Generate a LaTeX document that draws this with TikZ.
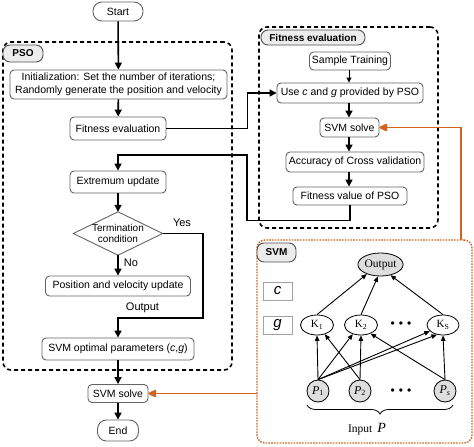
\documentclass[tikz,border=0pt]{standalone}
\usepackage{fontspec}
\setmainfont{Liberation Sans}
\newfontfamily\netfont{Liberation Serif}
\usetikzlibrary{arrows.meta,shapes.geometric,decorations.pathreplacing,calc}
\definecolor{orng}{RGB}{210,100,25}
\definecolor{bgray}{RGB}{100,100,100}
\definecolor{labfill}{RGB}{236,236,236}
\definecolor{nodefill}{RGB}{222,222,222}
\newcommand\flowfont{\fontsize{10.5}{12.7}\selectfont}
\begin{document}
\begin{tikzpicture}[x=1pt,y=-1pt,
  fbox/.style={draw=bgray, line width=0.9pt, fill=white, rounded corners=4pt, inner sep=1pt, align=center, font=\flowfont},
  pill/.style={fbox, rounded corners=9pt},
  lab/.style={draw=bgray!80!black, fill=labfill, rounded corners=7pt, line width=0.9pt, inner sep=1pt, font=\bfseries\fontsize{10}{12}\selectfont},
  region/.style={draw=black, line width=1.6pt, dash pattern=on 4pt off 3pt, rounded corners=8pt, inner sep=0pt},
  oregion/.style={draw=orng, line width=1.4pt, dash pattern=on 1.6pt off 1.2pt, rounded corners=8pt, inner sep=0pt},
  arr/.style={-{Triangle[length=7pt,width=7pt]}, line width=1.6pt},
  arrt/.style={-{Triangle[length=5pt,width=5pt]}, line width=0.9pt},
  oarr/.style={draw=orng, line width=1.8pt, -{Triangle[length=9pt,width=8pt,round]}},
  narr/.style={-{Triangle[length=5.5pt,width=4.5pt]}, line width=0.9pt},
  knode/.style={draw=black, line width=0.8pt, ellipse, inner sep=0pt, minimum width=33pt, minimum height=20pt, font=\netfont\fontsize{11}{12}\selectfont},
  pnode/.style={draw=black, line width=0.8pt, circle, fill=nodefill, inner sep=0pt, minimum size=22pt, font=\netfont\fontsize{12}{13}\selectfont},
  varbox/.style={draw=bgray!60, line width=0.9pt, fill=white, inner sep=0pt, minimum width=29pt, minimum height=18pt, font=\itshape\fontsize{15}{16}\selectfont},
  tlabel/.style={font=\fontsize{11}{12}\selectfont, inner sep=0pt}
]
\useasboundingbox (0,0) rectangle (474,447);
\fill[white] (0,0) rectangle (474,447);

% regions
\node[region, minimum width=229pt, minimum height=328pt] (psobox) at (117.5,206) {};
\node[region, minimum width=179pt, minimum height=201pt] (fitbox) at (348.5,127.5) {};
\node[oregion, minimum width=215pt, minimum height=203pt] (svmbox) at (364.5,341.5) {};

% region labels
\node[lab, minimum width=40pt, minimum height=17pt] (psolab) at (23,53.5) {PSO};
\node[lab, minimum width=104pt, minimum height=15pt] (fitlab) at (313,37.5) {Fitness evaluation};
\node[lab, minimum width=39pt, minimum height=19pt] (svmlab) at (276.5,252.5) {SVM};

% PSO flow
\node[pill, minimum width=50pt, minimum height=19pt] (start) at (118,11.5) {Start};
\node[fbox, minimum width=217pt, minimum height=29pt] (init) at (118.5,84.5) {Initialization: Set the number of iterations;\\Randomly generate the position and velocity};
\node[fbox, minimum width=96pt, minimum height=23pt] (fit) at (118,128.5) {Fitness evaluation};
\node[fbox, minimum width=96pt, minimum height=22pt] (ext) at (118,182) {Extremum update};
\node[minimum width=89pt, minimum height=43pt, inner sep=0pt] (term) at (118,233.5) {};
\draw[draw=bgray, line width=0.9pt, fill=white] (term.north) -- (term.east) -- (term.south) -- (term.west) -- cycle;
\node[align=center, font=\fontsize{10}{11.5}\selectfont, inner sep=0pt] (termtext) at (term.center) {Termination\\condition};
\node[fbox, minimum width=145pt, minimum height=20pt] (pos) at (118,286) {Position and velocity update};
\node[fbox, minimum width=152pt, minimum height=22pt] (opt) at (118,349) {SVM optimal parameters (\textit{c},\textit{g})};
\node[fbox, minimum width=60pt, minimum height=18pt] (svms) at (118,393.5) {SVM solve};
\node[pill, minimum width=41pt, minimum height=21pt] (end) at (118,430.5) {End};

% Fitness flow
\node[fbox, minimum width=81pt, minimum height=18pt] (samp) at (350,61) {Sample Training};
\node[fbox, minimum width=146pt, minimum height=20pt] (use) at (350,93) {Use \textit{c} and \textit{g} provided by PSO};
\node[fbox, minimum width=59pt, minimum height=19pt] (svm1) at (349.5,127.5) {SVM solve};
\node[fbox, minimum width=138pt, minimum height=20pt] (acc) at (355,162) {Accuracy of Cross validation};
\node[fbox, minimum width=114pt, minimum height=18pt] (fv) at (350,196) {Fitness value of PSO};

% SVM network
\node[varbox] (cbox) at (277.5,291) {c};
\node[varbox] (gbox) at (277.5,325) {g};
\node[draw=black, line width=0.8pt, ellipse, fill=nodefill, inner sep=0pt, minimum width=45pt, minimum height=23pt, font=\netfont\fontsize{11.5}{12}\selectfont] (out) at (380.5,264.5) {Output};
\node[knode] (k1) at (317,325) {K\textsubscript{1}};
\node[knode] (k2) at (361,325) {K\textsubscript{2}};
\node[knode, minimum width=32pt] (ks) at (443,325) {K\textsubscript{S}};
\node[font=\fontsize{12}{12}\selectfont, inner sep=0pt] (kdots) at (401,325) {\textbullet\hspace{4pt}\textbullet\hspace{4pt}\textbullet};
\node[pnode] (p1) at (318,391) {\textit{P}\textsubscript{1}};
\node[pnode] (p2) at (360,391) {\textit{P}\textsubscript{2}};
\node[pnode] (ps) at (445,391) {\textit{P}\textsubscript{\textit{s}}};
\node[font=\fontsize{12}{12}\selectfont, inner sep=0pt] (pdots) at (401,392) {\textbullet\hspace{4pt}\textbullet\hspace{4pt}\textbullet};
\draw[decorate, decoration={brace, mirror, amplitude=9pt}, line width=0.8pt] (307,405) -- (453,405);
\node[font=\netfont\fontsize{11.5}{12}\selectfont, inner sep=0pt] (inp) at (367,429) {Input\hspace{5pt}{\fontsize{14}{14}\selectfont\textit{P}}};

\draw[narr] (k1.north) -- (out.215);
\draw[narr] (k2.north) -- (out.258);
\draw[narr] (ks.north) -- (out.313);
\draw[narr] (p1.north) -- (k1.south);
\draw[narr] (p1.north) -- (k2.228);
\draw[narr] (p1.north) -- (ks.205);
\draw[narr] (p1.north) -- (ks.238);
\draw[narr] (p2.north) -- (k1.310);
\draw[narr] (p2.north) -- (k2.south);
\draw[narr] (ps.north) -- (k2.318);
\draw[narr] (ps.north) -- (ks.south);

% PSO connectors
\draw[arr] (start) -- (init);
\draw[arr] (init) -- (fit);
\draw[arr] (ext) -- (term.north);
\draw[arr] (term.south) -- (pos);
\draw[arr] (opt) -- (svms);
\draw[arr] (svms) -- (end);
\coordinate (r1) at (247,155);
\coordinate (y1) at (203,318);
\draw[arr] (fit.east) -- ++(81,0) |- (use.west);
\draw[arr] (fv.south) -- ++(0,15) -| (r1) -| (ext.north);
\draw[arr] (term.east) -| (y1) -| (opt.north);
\node[tlabel] (yes) at (182,223) {Yes};
\node[tlabel] (no) at (131,263) {No};
\node[tlabel] (outp) at (142.5,308) {Output};

% Fitness connectors
\draw[arrt] (samp.south -| 349,0) -- (use.north -| 349,0);
\draw[arr] (use.south -| 349,0) -- (svm1.north -| 349,0);
\draw[arr] (svm1.south -| 349,0) -- (acc.north -| 349,0);
\draw[arr] (acc.south -| 349,0) -- (fv.north -| 349,0);

% orange connectors
\coordinate (o1) at (461,240);
\coordinate (o2) at (257,393.5);
\draw[oarr] (o1) |- (svm1.east);
\draw[oarr] (o2) -- (svms.east);
\end{tikzpicture}
\end{document}
